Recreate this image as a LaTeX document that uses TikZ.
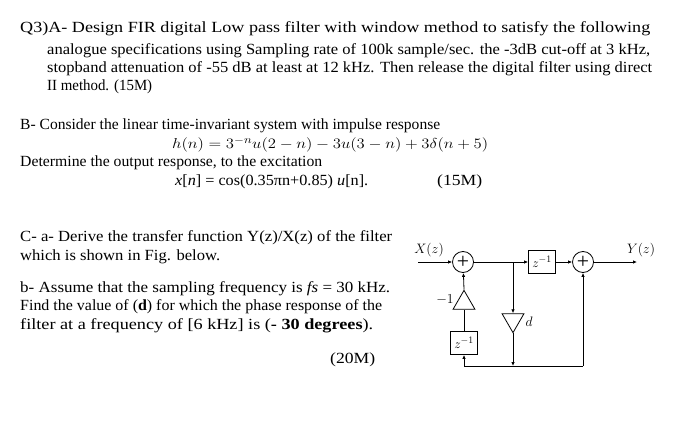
\documentclass[tikz,border=0pt]{standalone}
\usepackage{fontspec}
\setmainfont{Liberation Serif}
\usetikzlibrary{arrows.meta,shapes.geometric}
\newcommand{\tl}[4]{\node[anchor=base west,inner sep=0] (#4) at (#1) {\resizebox{#2pt}{\height}{#3}};}
\newcommand{\sz}[2]{\scalebox{#1}{#2}}
\begin{document}
\begin{tikzpicture}[x=1pt,y=-1pt,font=\fontsize{15.5}{17}\selectfont,
  sum/.style={circle,draw,thick,minimum size=21pt,inner sep=0},
  dly/.style={draw,thick,minimum width=27pt,minimum height=23pt,inner sep=0},
  amp/.style={isosceles triangle,draw,thick,isosceles triangle apex angle=60,minimum height=19pt,inner sep=0},
  lab/.style={},
  wire/.style={thick},
  arr/.style={thick,-{Latex[length=4pt,width=3.5pt]}}]
\useasboundingbox (0,0) rectangle (700,430);
\fill[white] (0,0) rectangle (700,430);
\tl{20,33}{630}{Q3)A- Design FIR digital Low pass filter with window method to satisfy the following}{l1}
\tl{47,55}{603}{analogue specifications using Sampling rate of 100k sample/sec. the -3dB cut-off at 3 kHz,}{l2}
\tl{47,73}{605}{stopband attenuation of -55 dB at least at 12 kHz. Then release the digital filter using direct}{l3}
\tl{47,91}{105}{II method. (15M)}{l4}
\tl{20,130}{420}{B- Consider the linear time-invariant system with impulse response}{b1}
\tl{172,149}{316}{$h(n)=3^{-n}u(2-n)-3u(3-n)+3\delta(n+5)$}{b2}
\tl{20,167}{302}{Determine the output response, to the excitation}{b3}
\tl{175,186}{193}{\textit{x}[\textit{n}] = cos(0.35πn+0.85) \textit{u}[n].}{b4}
\tl{437,186}{45}{(15M)}{b5}
\tl{20,241}{372}{C- a- Derive the transfer function Y(z)/X(z) of the filter}{c1}
\tl{20,260}{200}{which is shown in Fig. below.}{c2}
\tl{20,292}{370}{b- Assume that the sampling frequency is \textit{fs} = 30 kHz.}{c3}
\tl{20,310}{362}{Find the value of (\textbf{d}) for which the phase response of the}{c4}
\tl{20,329}{353}{filter at a frequency of [6 kHz] is (\textbf{- 30 degrees}).}{c5}
\tl{330,363}{45}{(20M)}{c6}
% diagram
\node[sum] (s1) at (463,262) {\sz{1.4}{+}};
\node[sum] (s2) at (583,262) {\sz{1.4}{+}};
\node[dly] (d1) at (542,262) {\sz{0.9}{$z^{-1}$}};
\node[dly] (d2) at (464,343) {\sz{0.9}{$z^{-1}$}};
\node[amp,shape border rotate=90] (g1) at (464,303) {};
\node[amp,shape border rotate=-90] (g2) at (513,320) {};
\node[lab] (xl) at (429,250) {\sz{0.95}{$X(z)$}};
\node[lab] (yl) at (641,250) {\sz{0.95}{$Y(z)$}};
\node[lab] (ml) at (445,300) {\sz{0.95}{$-1$}};
\node[lab] (dl) at (529,322) {\sz{0.95}{$d$}};
\coordinate (xin) at (418,262);
\coordinate (yout) at (637,262);
\coordinate (tap) at (513,262);
\coordinate (bt) at (513,366);
\coordinate (bl) at (464,366);
\coordinate (br) at (583,366);
\draw[arr] (xin) -- (s1);
\draw[wire] (s1) -- (tap);
\draw[arr] (tap) -- (d1);
\draw[arr] (d1) -- (s2);
\draw[arr] (s2) -- (yout);
\draw[arr] (tap) -- (g2);
\draw[arr] (g2.apex) -- (bt);
\draw[wire] (bl) -- (br);
\draw[arr] (bl) -- (d2);
\draw[arr] (br) -- (s2);
\draw[wire] (d2) -- (g1);
\draw[arr] (g1.apex) -- (s1);
\end{tikzpicture}
\end{document}
